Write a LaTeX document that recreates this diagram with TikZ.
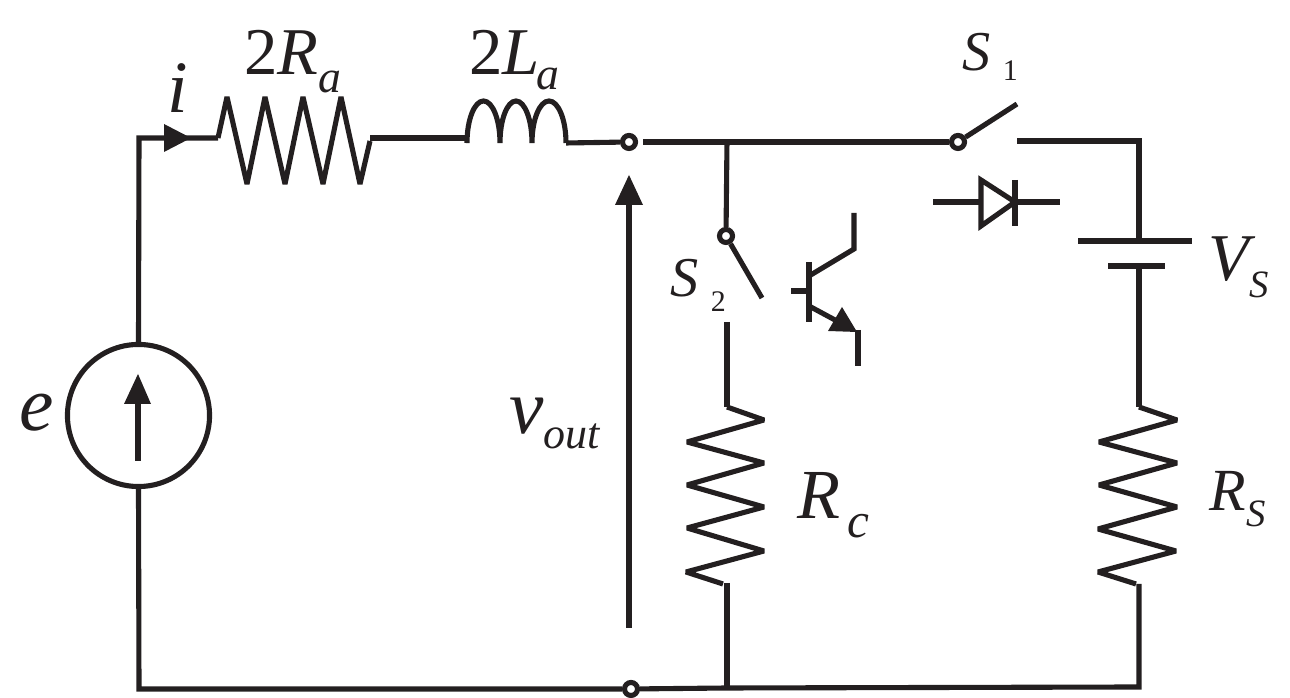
\documentclass[tikz,border=0pt]{standalone}
\usepackage{fontspec}
\setmainfont{Liberation Serif}
\definecolor{ink}{RGB}{35,31,32}
\newcommand{\subtxt}[4]{\hspace{#1pt}\raisebox{#2pt}{\fontsize{#3}{#3}\selectfont #4}}
\tikzset{x=0.01cm, y=-0.01cm,
  every path/.style={ink, line width=1.45pt},
  zigzag/.style={line join=bevel},
  terminal/.style={circle, draw=ink, fill=white, line width=1.45pt, inner sep=0pt, minimum size=0.13cm},
  lab/.style={inner sep=0pt, anchor=base west, text=ink, font=\itshape\fontsize{#1}{#1}\selectfont},
  tip/.style={fill=ink, draw=none}}

\begin{document}
\begin{tikzpicture}
  \useasboundingbox (0,0) rectangle (1290,698);
  % corners and ends
  \coordinate (tl) at (139,138);
  \coordinate (bl) at (139,689);
  \coordinate (tr) at (1139,141);
  \coordinate (br) at (1139,687);
  \coordinate (ra) at (218,138);
  \coordinate (rb) at (370,138);
  \coordinate (la) at (467,138);
  \coordinate (lb) at (566,143);
  \coordinate (j1) at (727,141);
  \coordinate (j2) at (727,688);
  \coordinate (rsb) at (1139,584);
  \node[terminal] (out) at (629,142) {};
  \node[terminal] (gnd) at (631,689) {};
  \node[terminal] (s1) at (958,142) {};
  \node[terminal] (s2) at (726,236) {};
  \node[circle, draw=ink, line width=1.45pt, minimum size=1.42cm, inner sep=0pt] (e) at (138.5,415.5) {};
  % outer loop
  \draw (e.north) -- (tl) -- (ra);
  \draw (e.south) -- (bl) -- (gnd);
  \draw (gnd) -- (j2) -- (br) -- (rsb);
  \draw (rb) -- (la);
  \draw (lb) -- (out);
  \draw (out.east) ++(5,0) -- (s1);
  % resistor 2Ra
  \draw[zigzag] (ra) -- (227,97) -- (247,184) -- (265,97) -- (285,184) -- (303,97) -- (323,184) -- (341,97) -- (360,184) -- (370,141);
  % inductor 2La
  \draw (la) -- ++(0,5) arc (180:360:16.5 and 42) arc (180:360:16 and 42) arc (180:360:17 and 42);
  % source arrow
  \draw (138,461) -- (138,400);
  \fill[tip] (138,374) -- (151,404) -- (124,404) -- cycle;
  % current arrow
  \fill[tip] (191,138) -- (164,124) -- (164,152) -- cycle;
  % vout arrow
  \draw (629,628) -- (629,200);
  \fill[tip] (629,175) -- (643,205) -- (615,205) -- cycle;
  % branch S2 Rc
  \draw (j1) -- (s2);
  \draw (s2) -- (762,298);
  \draw (727,322) -- (727,407);
  \draw[zigzag] (727,407) -- (764,420) -- (687,442) -- (764,463) -- (687,485) -- (764,507) -- (687,528) -- (764,551) -- (686,572) -- (723,584);
  \draw (727,583) -- (j2);
  % branch S1 VS Rs
  \draw (s1) -- (1017,104);
  \draw (1017,141) -- (tr) -- (1139,241);
  \draw (1078,241) -- (1192,241);
  \draw (1108,266) -- (1165,266);
  \draw (1139,266) -- (1139,407);
  \draw[zigzag] (1139,407) -- (1177,420) -- (1099,442) -- (1177,463) -- (1099,485) -- (1177,507) -- (1098,529) -- (1176,551) -- (1098,572) -- (1136,584);
  % diode
  \draw (933,202) -- (980,202);
  \draw (981,180) -- (1015,202) -- (981,226) -- cycle;
  \draw (1015,180) -- (1015,226);
  \draw (1015,202) -- (1060,202);
  % transistor
  \draw (809,262) -- (809,322);
  \draw (791,291) -- (809,291);
  \draw (809,276) -- (854,249) -- (854,213);
  \draw (809,306) -- (835,320);
  \fill[tip] (857,332) -- (828,331) -- (842,307) -- cycle;
  \draw (858,330) -- (858,366);
  % labels
  \node[lab=21] (li) at (165,113) {i};
  \node[lab=19] (lr) at (242,75) {\textup{2}R\subtxt{0}{-5}{13}{a}};
  \node[lab=19] (ll) at (467,75) {\textup{2}L\subtxt{-1}{-4}{13}{a}};
  \node[lab=16] (ls1) at (960,71) {S\subtxt{3.5}{-2.8}{8.5}{\upshape 1}};
  \node[lab=16] (ls2) at (668,297) {S\subtxt{3.5}{-4}{8.5}{\upshape 2}};
  \node[lab=19] (lv) at (1206,281) {V\subtxt{0}{-4.8}{11}{S}};
  \node[lab=22] (le) at (17,431) {e};
  \node[lab=22] (lo) at (507,434) {v\subtxt{0}{-4}{12.5}{out}};
  \node[lab=20] (lc) at (795,519) {R\subtxt{2}{-5.4}{14}{c}};
  \node[lab=17] (lrs) at (1207,511) {R\subtxt{0}{-4.5}{11}{S}};
\end{tikzpicture}
\end{document}
